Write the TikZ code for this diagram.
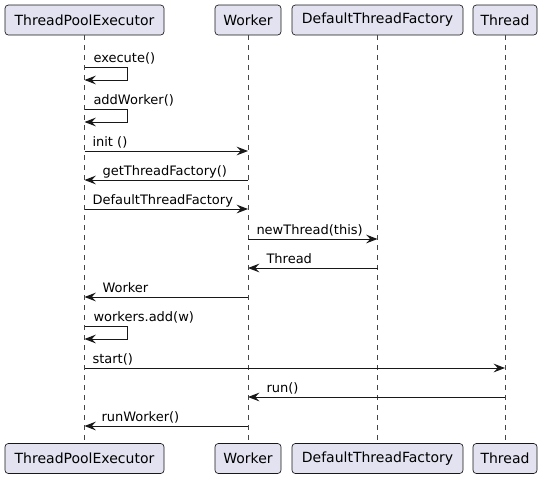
\documentclass[tikz,border=0pt]{standalone}
\usepackage{fontspec}
\setmainfont{DejaVu Sans}
\usetikzlibrary{arrows.meta}
\definecolor{partfill}{RGB}{226,226,240}
\definecolor{linedark}{RGB}{24,24,24}
\tikzset{every picture/.style={line width=0.75pt}}
\tikzset{
  part/.style={draw=linedark, line width=0.5pt, fill=partfill, rounded corners=2.5pt, minimum height=22.5pt, inner sep=0pt, font=\fontsize{10.5}{12}\selectfont},
  life/.style={draw=linedark!80, line width=0.5pt, dash pattern=on 3.75pt off 3.75pt},
  msg/.style={draw=linedark, -{Stealth[length=8.5pt,width=6.5pt,inset=3pt]}},
  lbl/.style={anchor=base west, inner sep=0pt, font=\fontsize{9.75}{11}\selectfont},
}
\begin{document}
\begin{tikzpicture}[x=0.75pt,y=0.75pt,yscale=-1,xscale=1]
\useasboundingbox (0,0) rectangle (542,479);

% Participants (top)
\node [part, minimum width=119.25pt] (tpe) at (84.5,20) {ThreadPoolExecutor};
\node [part, minimum width=49.5pt] (wrk) at (248,20) {Worker};
\node [part, minimum width=128.25pt] (dtf) at (377.5,20) {DefaultThreadFactory};
\node [part, minimum width=48pt] (thr) at (505,20) {Thread};
% Participants (bottom)
\node [part, minimum width=119.25pt] (tpeB) at (84.5,458.5) {ThreadPoolExecutor};
\node [part, minimum width=49.5pt] (wrkB) at (248,458.5) {Worker};
\node [part, minimum width=128.25pt] (dtfB) at (377.5,458.5) {DefaultThreadFactory};
\node [part, minimum width=48pt] (thrB) at (505,458.5) {Thread};

% Lifelines
\draw [life] (tpe) -- (tpeB);
\draw [life] (wrk) -- (wrkB);
\draw [life] (dtf) -- (dtfB);
\draw [life] (thr) -- (thrB);

% execute()
\draw [msg] (tpe |- 0,67) -- (127,67) -- (127,80) -- (tpe |- 0,80);
\node [lbl] (m1) at (93,62.5) {execute()};
% addWorker()
\draw [msg] (tpe |- 0,109) -- (127,109) -- (127,122) -- (tpe |- 0,122);
\node [lbl] (m2) at (93,104.5) {addWorker()};
% init ()
\draw [msg] (tpe |- 0,151) -- (wrk |- 0,151);
\node [lbl] (m3) at (92,146.5) {init ()};
% getThreadFactory()
\draw [msg] (wrk |- 0,180) -- (tpe |- 0,180);
\node [lbl] (m4) at (102,175.5) {getThreadFactory()};
% DefaultThreadFactory
\draw [msg] (tpe |- 0,209) -- (wrk |- 0,209);
\node [lbl] (m5) at (92,204.5) {DefaultThreadFactory};
% newThread(this)
\draw [msg] (wrk |- 0,239) -- (dtf |- 0,239);
\node [lbl] (m6) at (256,234.5) {newThread(this)};
% Thread
\draw [msg] (dtf |- 0,268) -- (wrk |- 0,268);
\node [lbl] (m7) at (266,263.5) {Thread};
% Worker
\draw [msg] (wrk |- 0,297) -- (tpe |- 0,297);
\node [lbl] (m8) at (102,292.5) {Worker};
% workers.add(w)
\draw [msg] (tpe |- 0,326) -- (127,326) -- (127,339) -- (tpe |- 0,339);
\node [lbl] (m9) at (93,321.5) {workers.add(w)};
% start()
\draw [msg] (tpe |- 0,368) -- (thr |- 0,368);
\node [lbl] (m10) at (92,363.5) {start()};
% run()
\draw [msg] (thr |- 0,397) -- (wrk |- 0,397);
\node [lbl] (m11) at (266,392.5) {run()};
% runWorker()
\draw [msg] (wrk |- 0,426) -- (tpe |- 0,426);
\node [lbl] (m12) at (101,421.5) {runWorker()};

\end{tikzpicture}
\end{document}
